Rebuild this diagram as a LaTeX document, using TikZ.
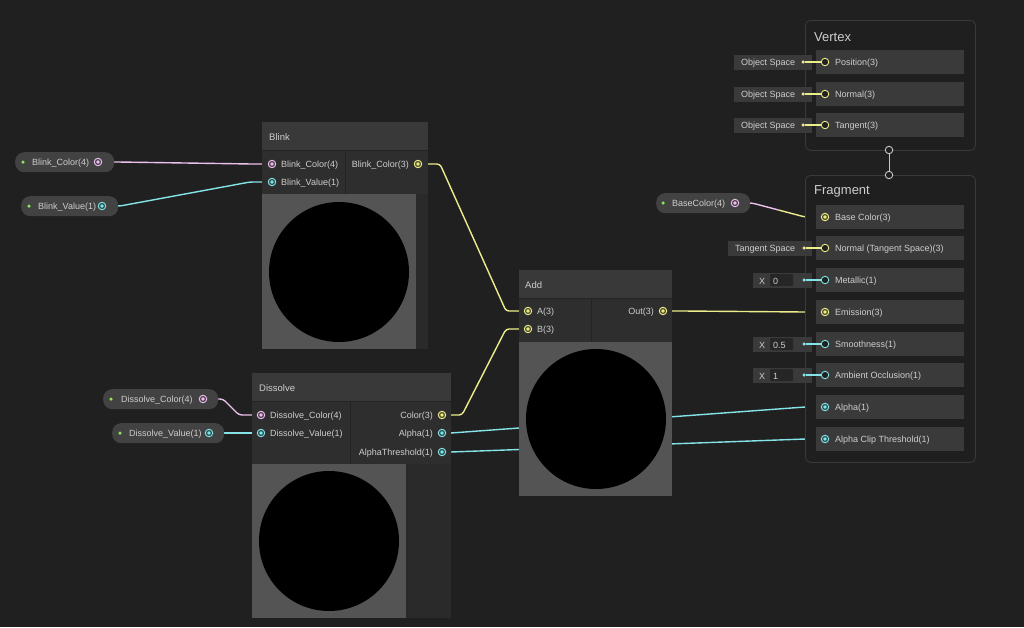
\documentclass[tikz,border=0pt]{standalone}
\usepackage{fontspec}
\setmainfont{Liberation Sans}
\usetikzlibrary{calc}

\definecolor{bgc}{RGB}{32,32,32}
\definecolor{hdrc}{RGB}{57,57,57}
\definecolor{portc}{RGB}{46,46,46}
\definecolor{divc}{RGB}{36,36,36}
\definecolor{prevc}{RGB}{84,84,84}
\definecolor{stripc}{RGB}{42,42,42}
\definecolor{mastc}{RGB}{31,31,31}
\definecolor{mastb}{RGB}{58,58,58}
\definecolor{slotc}{RGB}{58,58,58}
\definecolor{pillc}{RGB}{66,66,66}
\definecolor{defc}{RGB}{58,58,58}
\definecolor{fieldc}{RGB}{38,38,38}
\definecolor{txtc}{RGB}{206,206,206}
\definecolor{ycol}{RGB}{236,236,138}
\definecolor{pcol}{RGB}{236,192,236}
\definecolor{ccol}{RGB}{132,228,232}
\definecolor{gcol}{RGB}{144,230,90}
\definecolor{linkc}{RGB}{200,200,200}

\pgfdeclarelayer{back}
\pgfdeclarelayer{wires}
\pgfsetlayers{back,wires,main}

\tikzset{
  hdr/.style={rectangle, anchor=north west, inner sep=0, fill=hdrc},
  body/.style={rectangle, anchor=north west, inner sep=0, fill=portc},
  prev/.style={rectangle, anchor=north west, inner sep=0, fill=prevc},
  strip/.style={rectangle, anchor=north west, inner sep=0, fill=stripc},
  ball/.style={circle, inner sep=0, fill=black, minimum size=140},
  master/.style={rectangle, anchor=north west, inner sep=0, fill=mastc, draw=mastb, rounded corners=5, line width=0.8},
  slot/.style={rectangle, anchor=north west, inner sep=0, fill=slotc, minimum width=148, minimum height=24},
  lbl/.style={inner sep=0, text=txtc, font=\fontsize{9}{10}\selectfont, yshift=-1.5pt},
  ttl/.style={inner sep=0, anchor=west, text=txtc, font=\fontsize{9.5}{11}\selectfont, yshift=-1pt},
  big/.style={inner sep=0, anchor=west, text=txtc, font=\fontsize{13}{15}\selectfont, yshift=-1pt},
  pill/.style={rectangle, anchor=north west, inner sep=0, fill=pillc, rounded corners=9, minimum height=20},
  defbox/.style={rectangle, anchor=east, inner sep=0, fill=defc, minimum height=15},
  numfield/.style={rectangle, anchor=west, inner sep=0, fill=fieldc, minimum width=23, minimum height=12, rounded corners=1},
  cport/.style={circle, inner sep=0, minimum size=7.5, line width=0.9, draw=#1, fill=#1!35!black,
    path picture={\fill[#1] (path picture bounding box.center) circle (1.8pt);}},
  oport/.style={circle, inner sep=0, minimum size=7.5, line width=0.9, draw=#1, fill=bgc},
  pdot/.style={circle, inner sep=0, minimum size=3.5, fill=#1},
  wire/.style={draw=#1, line width=1.4, rounded corners=3},
}

\begin{document}
\begin{tikzpicture}[x=1pt, y=-1pt]
    \begin{pgfonlayer}{back}
    \fill[bgc] (0,0) rectangle (1024,627);
    \end{pgfonlayer}
    \useasboundingbox (0,0) rectangle (1024,627);

    % Blink node
    \node[hdr, minimum width=166, minimum height=28] (blink) at (262,122) {};
    \node[body, minimum width=83, minimum height=44] (blinkin) at (262,150) {};
    \node[body, minimum width=83, minimum height=44] (blinkout) at (345,150) {};
    \node[prev, minimum width=154, minimum height=155] (blinkprev) at (262,194) {};
    \node[strip, minimum width=12, minimum height=155] (blinkstrip) at (416,194) {};
    \node[ball] (blinkball) at (339,272) {};
    \draw[divc] (blinkin.north east) -- (blinkin.south east);
    \draw[divc] (blink.south west) -- (blink.south east);
    \node[ttl] (blinkt) at (269,136) {Blink};
    \node[cport=pcol] (bci) at (272,164) {};
    \node[cport=ccol] (bvi) at (272,182) {};
    \node[cport=ycol] (bco) at (418,164) {};
    \node[lbl, anchor=west] (bcil) at (281,164) {Blink\_Color(4)};
    \node[lbl, anchor=west] (bvil) at (281,182) {Blink\_Value(1)};
    \node[lbl, anchor=east] (bcol) at (409,164) {Blink\_Color(3)};

    % Dissolve node
    \node[hdr, minimum width=199, minimum height=28] (diss) at (252,373) {};
    \node[body, minimum width=98, minimum height=63] (dissin) at (252,401) {};
    \node[body, minimum width=101, minimum height=63] (dissout) at (350,401) {};
    \node[prev, minimum width=154, minimum height=154] (dissprev) at (252,464) {};
    \node[strip, minimum width=45, minimum height=154] (dissstrip) at (406,464) {};
    \node[ball] (dissball) at (329,541) {};
    \draw[divc] (dissin.north east) -- (dissin.south east);
    \draw[divc] (diss.south west) -- (diss.south east);
    \node[ttl] (disst) at (259,387) {Dissolve};
    \node[cport=pcol] (dci) at (261,415) {};
    \node[cport=ccol] (dvi) at (261,433) {};
    \node[cport=ycol] (dco) at (442,415) {};
    \node[cport=ccol] (dao) at (442,433) {};
    \node[cport=ccol] (dto) at (442,452) {};
    \node[lbl, anchor=west] (dcil) at (270,415) {Dissolve\_Color(4)};
    \node[lbl, anchor=west] (dvil) at (270,433) {Dissolve\_Value(1)};
    \node[lbl, anchor=east] (dcol) at (433,415) {Color(3)};
    \node[lbl, anchor=east] (daol) at (433,433) {Alpha(1)};
    \node[lbl, anchor=east] (dtol) at (433,452) {AlphaThreshold(1)};

    % Add node
    \node[hdr, minimum width=153, minimum height=28] (add) at (519,270) {};
    \node[body, minimum width=72, minimum height=44] (addin) at (519,298) {};
    \node[body, minimum width=81, minimum height=44] (addout) at (591,298) {};
    \node[prev, minimum width=153, minimum height=154] (addprev) at (519,342) {};
    \node[ball] (addball) at (596,419) {};
    \draw[divc] (addin.north east) -- (addin.south east);
    \draw[divc] (add.south west) -- (add.south east);
    \node[ttl] (addt) at (525,284) {Add};
    \node[cport=ycol] (aa) at (528,311) {};
    \node[cport=ycol] (ab) at (528,329) {};
    \node[cport=ycol] (ao) at (663,311) {};
    \node[lbl, anchor=west] (aal) at (537,311) {A(3)};
    \node[lbl, anchor=west] (abl) at (537,329) {B(3)};
    \node[lbl, anchor=east] (aol) at (654,311) {Out(3)};

    % property pills
    \node[pill, minimum width=99] (pbc) at (15,152) {};
    \node[pdot=gcol] (pbcd) at (23,162) {};
    \node[lbl, anchor=west] (pbcl) at (32,162) {Blink\_Color(4)};
    \node[cport=pcol] (bcp) at (98,162) {};

    \node[pill, minimum width=97] (pbv) at (21,196) {};
    \node[pdot=gcol] (pbvd) at (29,206) {};
    \node[lbl, anchor=west] (pbvl) at (38,206) {Blink\_Value(1)};
    \node[cport=ccol] (bvp) at (102,206) {};

    \node[pill, minimum width=115] (pdc) at (103,389) {};
    \node[pdot=gcol] (pdcd) at (111,399) {};
    \node[lbl, anchor=west] (pdcl) at (121,399) {Dissolve\_Color(4)};
    \node[cport=pcol] (dcp) at (203,399) {};

    \node[pill, minimum width=112] (pdv) at (112,423) {};
    \node[pdot=gcol] (pdvd) at (120,433) {};
    \node[lbl, anchor=west] (pdvl) at (129,433) {Dissolve\_Value(1)};
    \node[cport=ccol] (dvp) at (209,433) {};

    \node[pill, minimum width=94] (pbase) at (656,193) {};
    \node[pdot=gcol] (pbased) at (663,203) {};
    \node[lbl, anchor=west] (pbasel) at (672,203) {BaseColor(4)};
    \node[cport=pcol] (bsp) at (735,203) {};

    % Vertex block
    \node[master, minimum width=170, minimum height=130] (vtx) at (805,20) {};
    \node[big] (vtxt) at (814,36) {Vertex};
    \foreach \y/\t [count=\i] in {62/Position(3), 94/Normal(3), 125/Tangent(3)} {
        \node[slot] (vs\i) at (816,\y-12) {};
        \node[lbl, anchor=west] (vl\i) at (835,\y) {\t};
        \node[defbox, minimum width=78] (vb\i) at (812,\y) {};
        \node[lbl, anchor=west] (vbl\i) at (741,\y) {Object Space};
        \node[pdot=ycol] (vd\i) at (803,\y) {};
        \node[oport=ycol] (vp\i) at (825,\y) {};
        \draw[ycol, line width=1.2] (vd\i) -- (vp\i);
    }

    % Fragment block
    \node[master, minimum width=170, minimum height=287] (frg) at (805,175) {};
    \node[big] (frgt) at (814,190) {Fragment};
    \foreach \y/\t [count=\i] in {217/Base Color(3), 248/Normal (Tangent Space)(3), 280/Metallic(1),
        312/Emission(3), 344/Smoothness(1), 375/Ambient Occlusion(1), 407/Alpha(1), 439/Alpha Clip Threshold(1)} {
        \node[slot] (fs\i) at (816,\y-12) {};
        \node[lbl, anchor=west] (fl\i) at (835,\y) {\t};
    }
    \node[cport=ycol] (f1) at (825,217) {};
    \node[oport=ycol] (f2) at (825,248) {};
    \node[oport=ccol] (f3) at (825,280) {};
    \node[cport=ycol] (f4) at (825,312) {};
    \node[oport=ccol] (f5) at (825,344) {};
    \node[oport=ccol] (f6) at (825,375) {};
    \node[cport=ccol] (f7) at (825,407) {};
    \node[cport=ccol] (f8) at (825,439) {};

    % default values
    \node[defbox, minimum width=84] (tsb) at (812,248) {};
    \node[lbl, anchor=west] (tsl) at (735,248) {Tangent Space};
    \node[pdot=ycol] (tsd) at (804,248) {};
    \draw[ycol, line width=1.2] (tsd) -- (f2);
    \foreach \y/\v/\n in {280/0/3, 344/0.5/5, 375/1/6} {
        \node[defbox, minimum width=59] (xb\n) at (812,\y) {};
        \node[lbl] (xl\n) at (762,\y) {X};
        \node[numfield] (xf\n) at (770,\y) {};
        \node[lbl, anchor=west] (xv\n) at (773,\y) {\v};
        \node[pdot=ccol] (xd\n) at (804,\y) {};
        \draw[ccol, line width=1.2] (xd\n) -- (f\n);
    }

    % vertex to fragment
    \node[oport=linkc] (vout) at (889,150) {};
    \node[oport=linkc] (fin) at (889,175) {};
    \draw[linkc, line width=1] (vout) -- (fin);

    % wires
    \begin{pgfonlayer}{wires}
    \draw[wire=pcol] (bcp) -- ++(20,0) -- ($(bci)+(-20,0)$) -- (bci);
    \draw[wire=ccol] (bvp) -- ++(18,0) -- ($(bvi)+(-22,0)$) -- (bvi);
    \draw[wire=pcol] (dcp) -- ++(20,0) -- ($(dci)+(-22,0)$) -- (dci);
    \draw[wire=ccol] (dvp) -- (dvi);
    \draw[wire=ycol] (bco) -- ++(22,0) -- ($(aa)+(-22,0)$) -- (aa);
    \draw[wire=ycol] (dco) -- ++(20,0) -- ($(ab)+(-22,0)$) -- (ab);
    \draw[wire=ycol] (ao) -- ++(20,0) -- ($(f4)+(-20,0)$) -- (f4);
    \draw[wire=ccol] (dao) -- ++(9,0) -- ($(f7)+(-20,0)$) -- (f7);
    \draw[wire=ccol] (dto) -- ++(9,0) -- ($(f8)+(-20,0)$) -- (f8);
    \coordinate (bs1) at ($(bsp)+(17,0)$);
    \coordinate (bs2) at ($(f1)+(-20,0)$);
    \coordinate (bsm) at ($(bs1)!0.5!(bs2)$);
    \draw[wire=pcol] (bsp) -- (bs1) -- (bsm);
    \draw[wire=ycol] (bsm) -- (bs2) -- (f1);
    \end{pgfonlayer}
\end{tikzpicture}
\end{document}
